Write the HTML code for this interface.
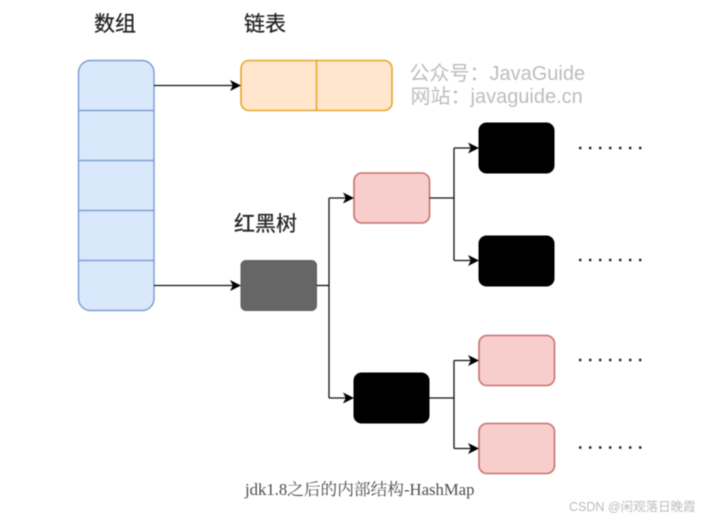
<!DOCTYPE html>
<html><head><meta charset="utf-8"><style>
html,body{margin:0;padding:0;background:#fff}
body{width:707px;height:519px;overflow:hidden}
svg{display:block;filter:blur(.45px)}
.c{font-family:"Liberation Sans","Noto Sans CJK SC",sans-serif}
</style></head><body>
<svg width="707" height="519" viewBox="0 0 707 519" xmlns="http://www.w3.org/2000/svg">
<defs><path id="a" d="M0 0l-11-5.500 2.800 5.500-2.800 5.500z" fill="#000"/></defs>
<rect width="707" height="519" fill="#fff"/>
<g class="c" fill="#222" font-size="21" text-anchor="middle" stroke="#222" stroke-width=".25">
<text x="115" y="31">数组</text>
<text x="265" y="31">链表</text>
<text x="265.500" y="231">红黑树</text>
</g>
<rect x="78.500" y="60.500" width="75.500" height="250" rx="12" fill="#dae8fc" stroke="#7f9fd2" stroke-width="1.500"/>
<path d="M78.500 110.500H154M78.500 160.500H154M78.500 210.500H154M78.500 260.500H154" stroke="#7f9fd2" stroke-width="1.400" fill="none"/>
<rect x="241" y="60.500" width="151" height="50" rx="8" fill="#ffe6cc" stroke="#e4a72d" stroke-width="1.600"/>
<path d="M316.500 60.500V110.500" stroke="#e0a021" stroke-width="1.400"/>
<rect x="241" y="260.500" width="75.500" height="50" rx="5" fill="#666" stroke="#5f5f5f"/>
<g fill="#f8cecc" stroke="#c9706d" stroke-width="1.600">
<rect x="354" y="173" width="75.500" height="50" rx="8"/>
<rect x="479" y="335.500" width="75.500" height="50" rx="8"/>
<rect x="479" y="423.500" width="75.500" height="50" rx="8"/>
</g>
<g fill="#000">
<rect x="353.500" y="372.500" width="76" height="51" rx="8"/>
<rect x="478.500" y="122.500" width="76" height="51" rx="8"/>
<rect x="478.500" y="235.500" width="76" height="51" rx="8"/>
</g>
<g fill="none" stroke="#111" stroke-width="1.300">
<path d="M154 85.500H235"/>
<path d="M154 285.500H235"/>
<path d="M316.500 285.500H329"/>
<path d="M329 198V398"/>
<path d="M329 198H348M329 398H348"/>
<path d="M429.500 198H454M454 148V260.500M454 148H473M454 260.500H473"/>
<path d="M429.500 398H454M454 360.500V448.500M454 360.500H473M454 448.500H473"/>
</g>
<use href="#a" x="241" y="85.500"/>
<use href="#a" x="241" y="285.500"/>
<use href="#a" x="354" y="198"/>
<use href="#a" x="354" y="398"/>
<use href="#a" x="479" y="148"/>
<use href="#a" x="479" y="260.500"/>
<use href="#a" x="479" y="360.500"/>
<use href="#a" x="479" y="448.500"/>
<g fill="none" stroke="#222" stroke-width="2.400" stroke-dasharray="2.400 7.600">
<path d="M579 148H642"/>
<path d="M579 260H642"/>
<path d="M579 360H642"/>
<path d="M579 447.500H642"/>
</g>
<g class="c" fill="#bdbdbd" font-size="20">
<text x="409.500" y="80">公众号：JavaGuide</text>
<text x="410.500" y="103">网站：javaguide.cn</text>
</g>
<text x="245" y="495" font-size="16.700" fill="#4d4d4d" style="font-family:'Liberation Serif','Noto Serif CJK SC',serif">jdk1.8之后的内部结构-HashMap</text>
<text x="569" y="511" font-size="12.500" fill="#bcbcbc" class="c">CSDN @闲观落日晚霞</text>
</svg>
</body></html>
